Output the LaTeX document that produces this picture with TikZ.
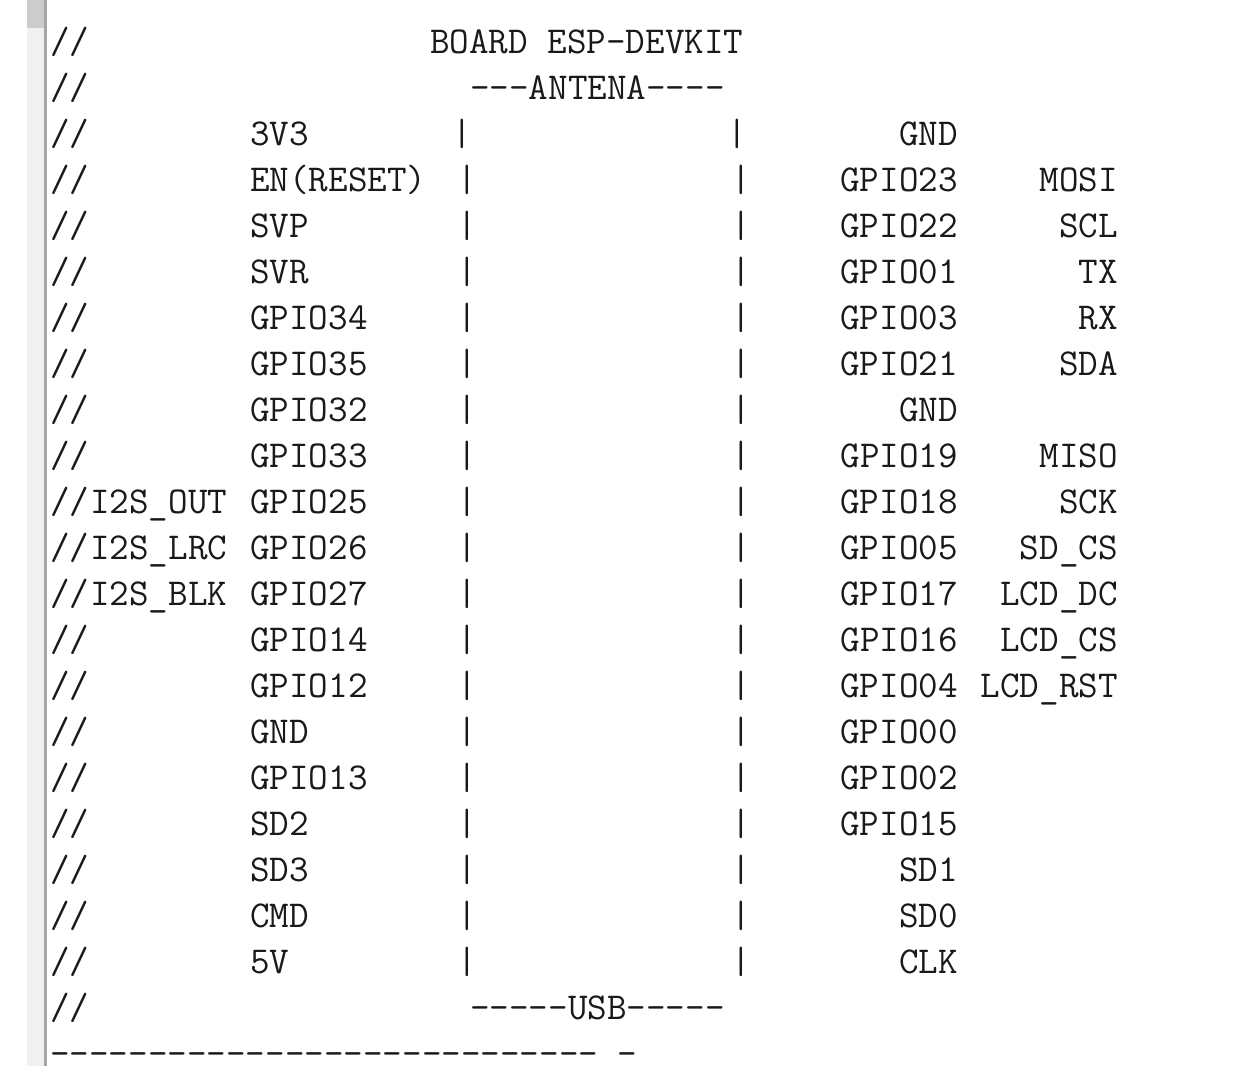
\documentclass[tikz,border=0pt]{standalone}
\usepackage{fontspec}
\begin{document}
\begin{tikzpicture}[x=1pt,y=-1pt,
  t/.style={anchor=base west,inner sep=0pt,font=\ttfamily\fontsize{38}{38}\selectfont,text=black!90},
  r/.style={t,anchor=base east}]
\useasboundingbox (0,0) rectangle (1252,1066);
\fill[white] (0,0) rectangle (1252,1066);
\fill[gray!40] (27,0) rectangle (45,28);
\fill[gray!12] (27,28) rectangle (45,1066);
\fill[gray!70] (44,0) rectangle (47,1066);
% left column slashes
\foreach \i in {0,...,21}{\node[t] (s\i) at (50,{53+46*\i}) {//};}
\node[t] (title) at (430,53) {BOARD ESP-DEVKIT};
\node[t] (ant) at (470,99) {---ANTENA----};
\node[t] (usb) at (470,1019) {-----USB-----};
\node[t] (bot) at (50,1065) {---------------------------- -};
% left labels
\foreach \i/\s in {2/3V3,3/EN(RESET),4/SVP,5/SVR,6/GPIO34,7/GPIO35,8/GPIO32,9/GPIO33,10/GPIO25,11/GPIO26,12/GPIO27,13/GPIO14,14/GPIO12,15/GND,16/GPIO13,17/SD2,18/SD3,19/CMD,20/5V}
  {\node[t] (l\i) at (250,{53+46*\i}) {\s};}
\node[t] (i1) at (90,513) {I2S\_OUT};
\node[t] (i2) at (90,559) {I2S\_LRC};
\node[t] (i3) at (90,605) {I2S\_BLK};
% bars
\node[t] (b0) at (452,145) {|};
\node[t] (c0) at (727,145) {|};
\foreach \i in {3,...,20}{
  \node[t] (b\i) at (457,{53+46*\i}) {|};
  \node[t] (c\i) at (731,{53+46*\i}) {|};}
% right labels
\foreach \i/\s in {2/GND,3/GPIO23,4/GPIO22,5/GPIO01,6/GPIO03,7/GPIO21,8/GND,9/GPIO19,10/GPIO18,11/GPIO05,12/GPIO17,13/GPIO16,14/GPIO04,15/GPIO00,16/GPIO02,17/GPIO15,18/SD1,19/SD0,20/CLK}
  {\node[r] (g\i) at (958,{53+46*\i}) {\s};}
\foreach \i/\s in {3/MOSI,4/SCL,5/TX,6/RX,7/SDA,9/MISO,10/SCK,11/SD\_CS,12/LCD\_DC,13/LCD\_CS,14/LCD\_RST}
  {\node[r] (f\i) at (1118,{53+46*\i}) {\s};}
\end{tikzpicture}
\end{document}
